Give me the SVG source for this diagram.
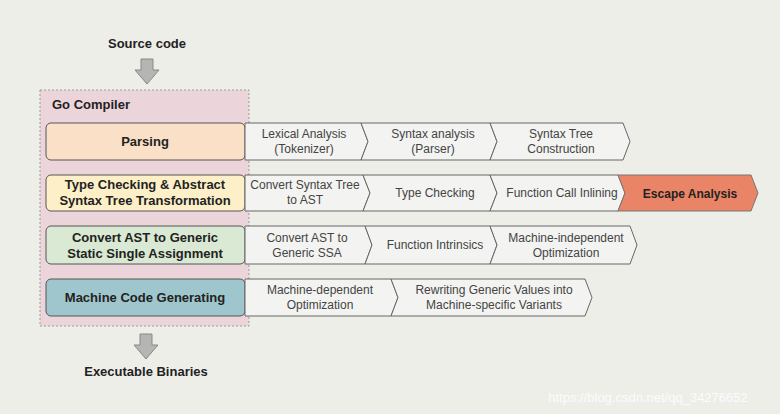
<svg xmlns="http://www.w3.org/2000/svg" width="780" height="414" viewBox="0 0 780 414">
<style>
text{font-family:"Liberation Sans",Arial,sans-serif;text-anchor:middle;fill:#222}
.b{font-weight:bold;font-size:13px}
.s{font-size:12px;fill:#444}
.ch{fill:#f3f3f1;stroke:#666;stroke-width:1}
.stage{stroke:#555;stroke-width:1}
.arr{fill:#b5b5b3;stroke:#888;stroke-width:1}
</style>
<rect width="780" height="414" fill="#eeeee9"/>
<text class="b" x="147" y="48">Source code</text>
<polygon class="arr" points="141,59 153,59 153,70 159,70 147,84 135,70 141,70"/>
<g id="compiler">
<rect x="40" y="90" width="209" height="236" fill="#ecd5da" stroke="#999" stroke-dasharray="2,2"/>
<text class="b" x="52" y="109" style="text-anchor:start">Go Compiler</text>
</g>
<g id="parsing">
<rect class="stage" x="46" y="123" width="199" height="37" rx="5" fill="#fbe0c8"/>
<text class="b" x="145" y="146">Parsing</text>
</g>
<g id="typecheck">
<rect class="stage" x="46" y="175" width="199" height="36" rx="5" fill="#fdf0c9"/>
<text class="b" x="145" y="189">Type Checking &amp; Abstract</text>
<text class="b" x="145" y="205">Syntax Tree Transformation</text>
</g>
<g id="ssa">
<rect class="stage" x="46" y="226" width="199" height="38" rx="5" fill="#d9e9d3"/>
<text class="b" x="145" y="242">Convert AST to Generic</text>
<text class="b" x="145" y="258">Static Single Assignment</text>
</g>
<g id="machine">
<rect class="stage" x="46" y="279" width="199" height="37" rx="5" fill="#9fc6cd"/>
<text class="b" x="145" y="302">Machine Code Generating</text>
</g>
<g id="row1">
<polygon class="ch" points="245,123 361,123 368,141.5 361,160 245,160"/>
<polygon class="ch" points="361,123 490,123 497,141.5 490,160 361,160 368,141.5"/>
<polygon class="ch" points="490,123 623,123 630,141.5 623,160 490,160 497,141.5"/>
<text class="s" x="304" y="138">Lexical Analysis</text><text class="s" x="304" y="153">(Tokenizer)</text>
<text class="s" x="433" y="138">Syntax analysis</text><text class="s" x="433" y="153">(Parser)</text>
<text class="s" x="561" y="138">Syntax Tree</text><text class="s" x="561" y="153">Construction</text>
</g>
<g id="row2">
<polygon class="ch" points="245,175 363,175 370,193 363,211 245,211"/>
<polygon class="ch" points="363,175 490,175 497,193 490,211 363,211 370,193"/>
<polygon class="ch" points="490,175 618,175 625,193 618,211 490,211 497,193"/>
<polygon points="618,175 751,175 758,193 751,211 618,211 625,193" fill="#ea8466" stroke="#777"/>
<text class="s" x="305" y="189">Convert Syntax Tree</text><text class="s" x="305" y="204">to AST</text>
<text class="s" x="435" y="197">Type Checking</text>
<text class="s" x="562" y="197">Function Call Inlining</text>
<text class="b" x="690" y="198" style="font-size:12px">Escape Analysis</text>
</g>
<g id="row3">
<polygon class="ch" points="245,226 365,226 372,245 365,264 245,264"/>
<polygon class="ch" points="365,226 490,226 497,245 490,264 365,264 372,245"/>
<polygon class="ch" points="490,226 630,226 637,245 630,264 490,264 497,245"/>
<text class="s" x="307" y="242">Convert AST to</text><text class="s" x="307" y="257">Generic SSA</text>
<text class="s" x="435" y="249">Function Intrinsics</text>
<text class="s" x="566" y="242">Machine-independent</text><text class="s" x="566" y="257">Optimization</text>
</g>
<g id="row4">
<polygon class="ch" points="245,279 391,279 398,297.5 391,316 245,316"/>
<polygon class="ch" points="391,279 585,279 592,297.5 585,316 391,316 398,297.5"/>
<text class="s" x="320" y="294">Machine-dependent</text><text class="s" x="320" y="309">Optimization</text>
<text class="s" x="494" y="294">Rewriting Generic Values into</text><text class="s" x="494" y="309">Machine-specific Variants</text>
</g>
<polygon class="arr" points="140,334 152,334 152,345 158,345 146,359 134,345 140,345"/>
<text class="b" x="146" y="376">Executable Binaries</text>
<text x="648" y="402" style="font-size:13px;fill:#fff;opacity:0.85">https://blog.csdn.net/qq_34276652</text>
</svg>
